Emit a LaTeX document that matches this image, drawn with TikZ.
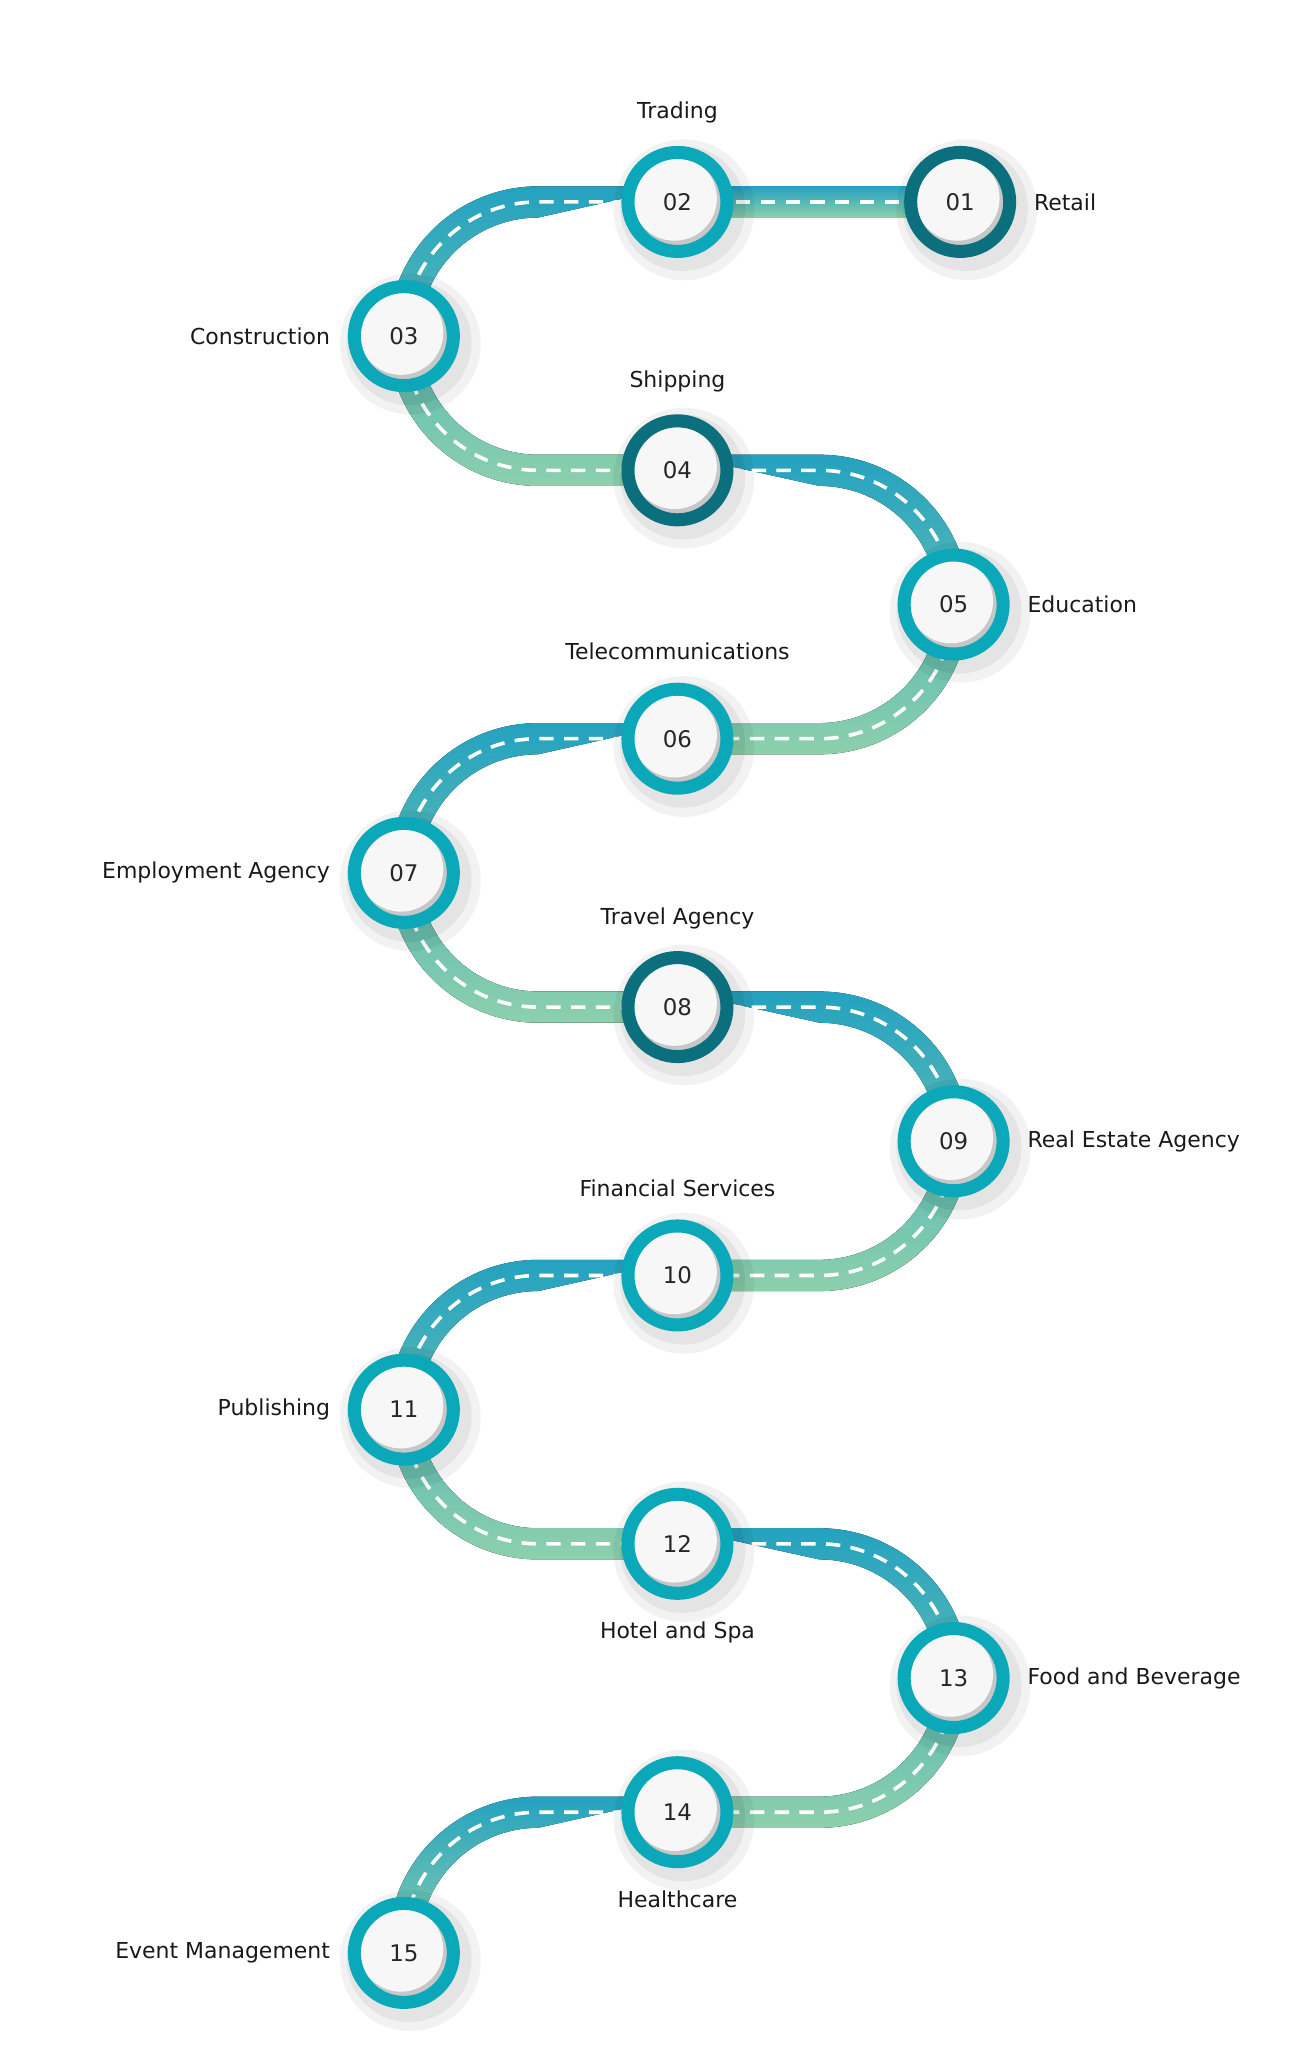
\documentclass[tikz,border=0pt]{standalone}
\usepackage{fontspec}
\setmainfont{DejaVu Sans}
\usetikzlibrary{positioning}
\definecolor{roadblue}{HTML}{24A2C0}
\definecolor{roadgreen}{HTML}{8DD0AC}
\definecolor{ringlight}{HTML}{0AA8B8}
\definecolor{ringdark}{HTML}{0C6F7E}
\tikzset{
  x=0.2mm, y=0.2mm,
  road/.style={top color=roadblue, bottom color=roadgreen},
  lane/.style={white, line width=0.55mm, dash pattern=on 2.2mm off 1.6mm},
  ring/.style={circle, minimum size=15.2mm, line width=2mm, draw=#1,
    fill=white!97!black, font=\fontsize{10}{12}\selectfont, text=black!85,
    path picture={
      \fill[black!22] (path picture bounding box.center) circle (6.7mm);
      \fill[white!97!black] ([shift={(-0.45mm,0.55mm)}]path picture bounding box.center) circle (6.5mm);}},
  tag/.style={font=\fontsize{9.6}{12}\selectfont, text=black!90},
}
\newcommand\leftturn[1]{%
  \fill[road] (520,#1+12) -- (413,#1+12) arc(90:270:115) -- (520,#1-218)
    -- (520,#1-194) -- (413,#1-194) arc(270:90:91) -- cycle;
  \draw[lane] (520,#1) -- (413,#1) arc(90:270:103) -- (520,#1-206);}
\newcommand\rightturn[1]{%
  \fill[road] (520,#1+12) -- (629,#1+12) arc(90:-90:115) -- (520,#1-218)
    -- (520,#1-194) -- (629,#1-194) arc(-90:90:91) -- cycle;
  \draw[lane] (520,#1) -- (629,#1) arc(90:-90:103) -- (520,#1-206);}
\begin{document}
\begin{tikzpicture}
  \useasboundingbox (0,0) rectangle (1000,-1572);

  % road
  \fill[road] (520,-143) rectangle (737,-167);
  \draw[lane] (565,-155) -- (700,-155);
  \leftturn{-155}
  \rightturn{-361}
  \leftturn{-567}
  \rightturn{-773}
  \leftturn{-979}
  \rightturn{-1185}
  \fill[road] (520,-1379) -- (413,-1379) arc(90:180:115) -- (298,-1499)
    -- (322,-1499) -- (322,-1494) arc(180:90:91) -- cycle;
  \draw[lane] (520,-1391) -- (413,-1391) arc(90:180:103) -- (310,-1499);

  % soft shadows
  \foreach \x/\y in {737/155,520/155,310/258,520/361,732/464,520/567,310/670,
      520/773,732/876,520/979,310/1082,520/1185,732/1288,520/1391,310/1499}{
    \fill[black, opacity=.05] (\x+5,-\y-6) circle (54);
    \fill[black, opacity=.06] (\x+4,-\y-5) circle (48);
  }

  % stops
  \node[ring=ringdark]  (n01) at (737,-155)  {01};
  \node[ring=ringlight] (n02) at (520,-155)  {02};
  \node[ring=ringlight] (n03) at (310,-258)  {03};
  \node[ring=ringdark]  (n04) at (520,-361)  {04};
  \node[ring=ringlight] (n05) at (732,-464)  {05};
  \node[ring=ringlight] (n06) at (520,-567)  {06};
  \node[ring=ringlight] (n07) at (310,-670)  {07};
  \node[ring=ringdark]  (n08) at (520,-773)  {08};
  \node[ring=ringlight] (n09) at (732,-876)  {09};
  \node[ring=ringlight] (n10) at (520,-979)  {10};
  \node[ring=ringlight] (n11) at (310,-1082) {11};
  \node[ring=ringlight] (n12) at (520,-1185) {12};
  \node[ring=ringlight] (n13) at (732,-1288) {13};
  \node[ring=ringlight] (n14) at (520,-1391) {14};
  \node[ring=ringlight] (n15) at (310,-1499) {15};

  % names
  \node[tag, above=2.2mm of n02] (t02) {Trading};
  \node[tag, right=1.5mm of n01] (t01) {Retail};
  \node[tag, left=1.5mm of n03]  (t03) {Construction};
  \node[tag, above=2.2mm of n04] (t04) {Shipping};
  \node[tag, right=1.5mm of n05] (t05) {Education};
  \node[tag, above=2.2mm of n06] (t06) {Telecommunications};
  \node[tag, left=1.5mm of n07]  (t07) {Employment Agency};
  \node[tag, above=2.2mm of n08] (t08) {Travel Agency};
  \node[tag, right=1.5mm of n09] (t09) {Real Estate Agency};
  \node[tag, above=2.2mm of n10] (t10) {Financial Services};
  \node[tag, left=1.5mm of n11]  (t11) {Publishing};
  \node[tag, below=2.2mm of n12] (t12) {Hotel and Spa};
  \node[tag, right=1.5mm of n13] (t13) {Food and Beverage};
  \node[tag, below=2.2mm of n14] (t14) {Healthcare};
  \node[tag, left=1.5mm of n15]  (t15) {Event Management};
\end{tikzpicture}
\end{document}
